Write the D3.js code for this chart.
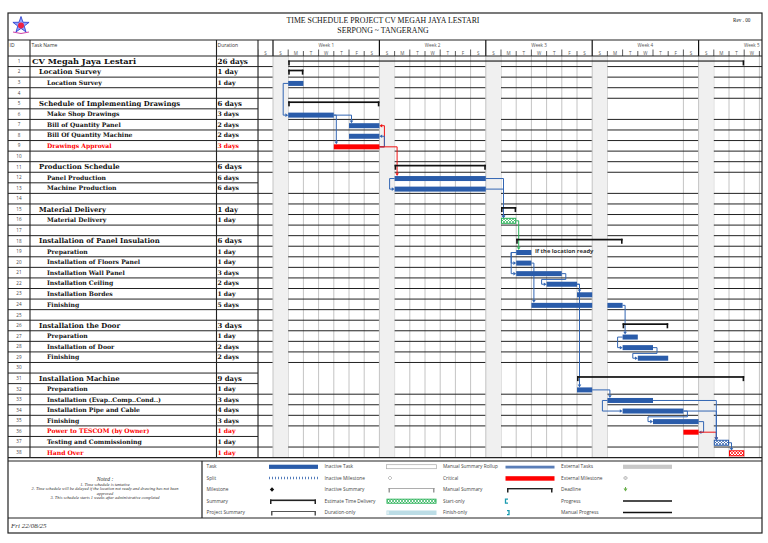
<!DOCTYPE html>
<html><head><meta charset="utf-8">
<script src="https://cdn.jsdelivr.net/npm/d3@7/dist/d3.min.js"></script>
<style>body{margin:0;background:#fff}svg{display:block}</style>
</head><body><svg id="c" width="768" height="543"></svg>
<script>
// ---------------- DATA ----------------
const taskIds = d3.range(1, 39);
const taskNames = [
  "CV Megah Jaya Lestari","Location Survey","Location Survey","",
  "Schedule of Implementing Drawings","Make Shop Drawings","Bill of Quantity Panel","Bill Of Quantity Machine","Drawings Approval","",
  "Production Schedule","Panel Production","Machine Production","",
  "Material Delivery","Material Delivery","",
  "Installation of Panel Insulation","Preparation","Installation of Floors Panel","Installation Wall Panel","Installation Ceiling","Installation Bordes","Finishing","",
  "Installation the Door","Preparation","Installation of Door","Finishing","",
  "Installation Machine","Preparation","Installation (Evap..Comp..Cond..)","Installation Pipe and Cable","Finishing","Power to TESCOM (by Owner)","Testing and Commissioning","Hand Over"
];
const durations = [
  "26 days","1 day","1 day","",
  "6 days","3 days","2 days","2 days","3 days","",
  "6 days","6 days","6 days","",
  "1 day","1 day","",
  "6 days","1 day","1 day","3 days","2 days","1 day","5 days","",
  "3 days","1 day","2 days","2 days","",
  "9 days","1 day","3 days","4 days","3 days","1 day","1 day","1 day"
];
const outlineLevel = [0,1,2,-1, 1,2,2,2,2,-1, 1,2,2,-1, 1,2,-1, 1,2,2,2,2,2,2,-1, 1,2,2,2,-1, 1,2,2,2,2,2,2,2];
const isCritical = taskIds.map(id => [9,36,38].includes(id));
const barKind = [
  "project","summary","task",null,
  "summary","task","task","task","critical",null,
  "summary","task","task",null,
  "summary","estimate",null,
  "summary","task","task","task","task","task","task",null,
  "summary","task","task","task",null,
  "summary","task","task","task","task","critical","hatch","hatchCritical"
];
// calendar day index (0 = Sunday of Week 1), [start, end)
const barSegments = [
  [[1,31]],[[1,2]],[[1,2]],[],
  [[1,7]],[[1,4]],[[5,7]],[[5,7]],[[4,7]],[],
  [[8,14]],[[8,14]],[[8,14]],[],
  [[15,16]],[[15,16]],[],
  [[16,23]],[[16,17]],[[16,17]],[[16,19]],[[18,20]],[[20,21]],[[17,21],[22,23]],[],
  [[23,26]],[[23,24]],[[23,25]],[[24,26]],[],
  [[20,31]],[[20,21]],[[22,25]],[[23,27]],[[25,28]],[[27,28]],[[29,30]],[[30,31]]
];
const linkFrom = [3,6,6,9,9,9,12,12,13,16,19,19,21,20,22,22,24,27,28,32,33,34,35,36,33,34,37];
const linkTo   = [6,7,9,7,8,12,13,16,16,19,20,21,22,24,23,32,27,28,29,33,34,35,36,37,37,37,38];
const linkType = ["SS","FS","FS","FF","FF","FS","SS","FS","FS","FS","SS","SS","FS","FS","FS","FS","FS","SS","FS","FS","SS","FS","FF","FS","FS","FS","FS"];
const linkTone = ["b","b","b","r","b","r","b","b","b","g","b","b","b","b","b","b","b","b","b","b","b","b","b","r","b","b","b"];
const weekLabels = ["Week 1","Week 2","Week 3","Week 4","Week 5"];
const dayLetters = ["S","M","T","W","T","F","S"];
const hiddenGridDays = [23,24,25,26];
const hiddenRowLines = [5,12,30,31,36];
const barNote = {row:19, text:"If the location ready"};
const noteLines = ["1. Time schedule is tentative","2. Time schedule will be delayed if the location not ready and drawing has not been","approved","3. This schedule starts 1 weeks after administrative completed"];
const legendCols = [
  ["Task","Split","Milestone","Summary","Project Summary"],
  ["Inactive Task","Inactive Milestone","Inactive Summary","Estimate Time Delivery","Duration-only"],
  ["Manual Summary Rollup","Critical","Manual Summary","Start-only","Finish-only"],
  ["External Tasks","External Milestone","Deadline","Progress","Manual Progress"]
];

// ---------------- LAYOUT ----------------
const svg = d3.select("#c");
const L=8, R=762, T=13, B=533;
const titleB=40, headB=56, tableB=457.6, legT=461, legB=518;
const colName=30, colDur=216.5, colG=258;
const x = d3.scaleLinear().domain([0,28]).range([273,698.6]);
const dw = x(1)-x(0);
const y = d3.scaleBand().domain(taskIds).range([headB, tableB]);
const rh = y.bandwidth();
const cy = id => y(id)+rh/2;
const BLUE="#2a5caa", LINKB="#3366b3", RED="#ff0000", GREEN="#2db35a";
const serif="'DejaVu Serif', serif", sans="'Open Sans','Noto Sans',sans-serif";

const defs = svg.append("defs");
defs.append("clipPath").attr("id","gclip").append("rect").attr("x",colG).attr("y",titleB).attr("width",R-colG).attr("height",tableB-titleB);
function hatch(id, col){
  const p = defs.append("pattern").attr("id",id).attr("patternUnits","userSpaceOnUse").attr("width",3).attr("height",3);
  p.append("rect").attr("width",3).attr("height",3).attr("fill","#fff");
  p.append("path").attr("d","M0,0L3,3M3,0L0,3").attr("stroke",col).attr("stroke-width",0.7);
}
hatch("hg",GREEN); hatch("hb",BLUE); hatch("hr",RED);

// ---------------- GANTT GRID ----------------
const g = svg.append("g").attr("clip-path","url(#gclip)");
const dayIdx = d3.range(-1, 34);
g.selectAll(".vl").data(dayIdx.filter(d => !hiddenGridDays.includes(d) && d%7!==0)).join("line")
  .attr("x1",d=>x(d)).attr("x2",d=>x(d)).attr("y1",headB).attr("y2",tableB)
  .attr("stroke","#c4c4c4").attr("stroke-width",1);
const rowBounds = d3.range(1,38).filter(k=>!hiddenRowLines.includes(k));
g.selectAll(".hl").data(rowBounds).join("line")
  .attr("x1",colG).attr("x2",R).attr("y1",k=>y(k)+rh).attr("y2",k=>y(k)+rh)
  .attr("stroke","#222").attr("stroke-width",1);
g.selectAll(".sun").data(d3.range(0,5)).join("rect")
  .attr("x",w=>x(7*w)).attr("width",dw).attr("y",headB).attr("height",tableB-headB)
  .attr("fill","#f0f0f0");
g.selectAll(".wl").data(d3.range(0,5)).join("line")
  .attr("x1",w=>x(7*w)).attr("x2",w=>x(7*w)).attr("y1",headB).attr("y2",tableB)
  .attr("stroke","#c4c4c4").attr("stroke-width",1);

// header timescale
const gh = svg.append("g").attr("clip-path","url(#gclip)");
gh.selectAll(".wk").data(weekLabels).join("text")
  .attr("x",(t,i)=>Math.min(x(7*i+3.5), R-9)).attr("y",47).attr("text-anchor","middle")
  .attr("font-family",sans).attr("font-size",4.6).attr("fill","#555").text(t=>t);
const letterDays = dayIdx.filter(d => x(d+0.5)+2 < R);
gh.selectAll(".dl").data(letterDays).join("text")
  .attr("x",d=>x(d+0.5)).attr("y",55).attr("text-anchor","middle")
  .attr("font-family",sans).attr("font-size",4.6).attr("fill","#555")
  .text(d=>dayLetters[((d%7)+7)%7]);
gh.selectAll(".dt").data(dayIdx.filter(d=>d%7!==0)).join("line")
  .attr("x1",d=>x(d)).attr("x2",d=>x(d)).attr("y1",d=>(d%2? 49.5:51)).attr("y2",headB)
  .attr("stroke","#333").attr("stroke-width",0.8);
gh.selectAll(".ws").data(d3.range(0,5)).join("line")
  .attr("x1",w=>x(7*w)).attr("x2",w=>x(7*w)).attr("y1",titleB).attr("y2",headB)
  .attr("stroke","#111").attr("stroke-width",1.2);

// ---------------- TABLE ----------------
const tb = svg.append("g");
tb.selectAll(".rl").data(d3.range(1,38)).join("line")
  .attr("x1",L).attr("x2",colG).attr("y1",k=>y(k)+rh).attr("y2",k=>y(k)+rh)
  .attr("stroke","#222").attr("stroke-width",1);
[colName,colDur,colG].forEach(cx=>{
  tb.append("line").attr("x1",cx).attr("x2",cx).attr("y1",titleB).attr("y2",tableB).attr("stroke","#222").attr("stroke-width",1.1);
});
tb.append("line").attr("x1",L).attr("x2",R).attr("y1",headB).attr("y2",headB).attr("stroke","#222").attr("stroke-width",1.2);
[["ID",L+1.5],["Task Name",colName+1.5],["Duration",colDur+1]].forEach(([t,px])=>{
  tb.append("text").attr("x",px).attr("y",47).attr("font-family",sans).attr("font-size",5).attr("fill","#333").text(t);
});
tb.selectAll(".id").data(taskIds).join("text")
  .attr("x",19).attr("y",id=>cy(id)+1.6).attr("text-anchor","middle")
  .attr("font-family",sans).attr("font-size",4.6).attr("fill","#444").text(id=>id);
const fsz = lv => lv===0 ? 8.2 : lv===1 ? 6.9 : 6.1;
const indent = lv => lv===0 ? 32 : lv===1 ? 39 : 47;
tb.selectAll(".nm").data(taskIds.filter((id,i)=>taskNames[i])).join("text")
  .attr("x",id=>indent(outlineLevel[id-1])).attr("y",id=>cy(id)+fsz(outlineLevel[id-1])*0.36)
  .attr("font-family",serif).attr("font-weight","bold")
  .attr("font-size",id=>fsz(outlineLevel[id-1]))
  .attr("fill",id=>isCritical[id-1]?"#ff0000":"#111").text(id=>taskNames[id-1]);
tb.selectAll(".du").data(taskIds.filter((id,i)=>durations[i])).join("text")
  .attr("x",colDur+1).attr("y",id=>cy(id)+fsz(outlineLevel[id-1])*0.36)
  .attr("font-family",serif).attr("font-weight","bold")
  .attr("font-size",id=>Math.min(fsz(outlineLevel[id-1]),7.2))
  .attr("fill",id=>isCritical[id-1]?"#ff0000":"#111").text(id=>durations[id-1]);

// ---------------- LINKS ----------------
const gl = svg.append("g").attr("fill","none").attr("stroke-width",1);
const toneCol = {b:LINKB, r:"#ee1111", g:GREEN};
const bStart = id => barSegments[id-1][0][0];
const bEnd = id => barSegments[id-1][barSegments[id-1].length-1][1];
const bm = id => cy(id)+1;
linkFrom.forEach((p,i)=>{
  const s = linkTo[i], col = toneCol[linkTone[i]];
  let path, arrow;
  if (linkType[i]==="FS") {
    const pe = x(bEnd(p)), ss = x(bStart(s));
    if (ss+3 >= pe-0.5) {
      const xv = ss+2.5, top = cy(s)-1.5;
      path = `M${pe},${bm(p)}H${xv}V${top-2.5}`;
      arrow = `M${xv-1.8},${top-2.8}L${xv+1.8},${top-2.8}L${xv},${top}Z`;
    } else {
      const xr = pe+4, ym = bm(p)+rh*0.5+0.5, xl = ss-5;
      path = `M${pe},${bm(p)}H${xr}V${ym}H${xl}V${bm(s)}H${ss-2.5}`;
      arrow = `M${ss-2.8},${bm(s)-1.8}L${ss-2.8},${bm(s)+1.8}L${ss},${bm(s)}Z`;
    }
  } else if (linkType[i]==="SS") {
    const ps = x(bStart(p)), ss = x(bStart(s)), xl = Math.min(ps,ss)-5;
    path = `M${ps},${bm(p)}H${xl}V${bm(s)}H${ss-2.5}`;
    arrow = `M${ss-2.8},${bm(s)-1.8}L${ss-2.8},${bm(s)+1.8}L${ss},${bm(s)}Z`;
  } else {
    const pe = x(bEnd(p)), se = x(bEnd(s)), xr = Math.max(pe,se)+5;
    path = `M${pe},${bm(p)}H${xr}V${bm(s)}H${se+2.5}`;
    arrow = `M${se+2.8},${bm(s)-1.8}L${se+2.8},${bm(s)+1.8}L${se},${bm(s)}Z`;
  }
  gl.append("path").attr("d",path).attr("stroke",col);
  gl.append("path").attr("d",arrow).attr("fill",col).attr("stroke","none");
});

// ---------------- BARS ----------------
const gb = svg.append("g");
taskIds.forEach((id,i)=>{
  const k = barKind[i]; if(!k) return;
  const c = cy(id);
  barSegments[i].forEach(([s,e])=>{
    const x0=x(s), x1=x(e);
    if (k==="summary" || k==="project") {
      const th = k==="summary"?1.7:1.1, ty = k==="summary"? c-2.2 : c-0.8;
      gb.append("rect").attr("x",x0).attr("y",ty).attr("width",x1-x0).attr("height",th).attr("fill","#111");
      gb.append("rect").attr("x",x0).attr("y",ty).attr("width",1.6).attr("height",5).attr("fill","#111");
      gb.append("rect").attr("x",x1-1.6).attr("y",ty).attr("width",1.6).attr("height",5).attr("fill","#111");
    } else {
      const fills = {task:BLUE, critical:RED, estimate:"url(#hg)", hatch:"url(#hb)", hatchCritical:"url(#hr)"};
      const strokes = {estimate:GREEN, hatch:BLUE, hatchCritical:RED};
      gb.append("rect").attr("x",x0+(strokes[k]?0.5:0)).attr("y",c-1.5).attr("width",x1-x0-(strokes[k]?1:0)).attr("height",5)
        .attr("fill",fills[k]).attr("stroke",strokes[k]||"none").attr("stroke-width",1);
    }
  });
});
gb.append("text").attr("x",x(bEnd(barNote.row))+3.5).attr("y",cy(barNote.row)+1.8)
  .attr("font-family",sans).attr("font-weight","bold").attr("font-size",5.8).attr("fill","#333").text(barNote.text);

// ---------------- TITLE ----------------
svg.append("text").attr("x",383).attr("y",22.5).attr("text-anchor","middle")
  .attr("font-family","'Liberation Serif',serif").attr("font-size",7.8).attr("fill","#111").text("TIME SCHEDULE PROJECT CV MEGAH JAYA LESTARI");
svg.append("text").attr("x",383).attr("y",32.5).attr("text-anchor","middle")
  .attr("font-family","'Liberation Serif',serif").attr("font-size",7.8).attr("fill","#111").text("SERPONG ~ TANGERANG");
svg.append("text").attr("x",733).attr("y",22).attr("font-family","'Liberation Serif',serif").attr("font-size",5.2).attr("fill","#222").text("Rev . 00");
// logo
const star = d3.range(10).map(k=>{const a=-Math.PI/2+k*Math.PI/5, r=k%2?3.4:8.5; return [21+r*Math.cos(a),25+r*Math.sin(a)];});
svg.append("path").attr("d","M"+star.join("L")+"Z").attr("fill","#8fa6ff").attr("stroke","#2233cc").attr("stroke-width",0.8);
svg.append("circle").attr("cx",21).attr("cy",25.5).attr("r",3).attr("fill","#ee2244");
svg.append("path").attr("d","M13,32 Q21,35 29,32").attr("stroke","#cc44aa").attr("stroke-width",1).attr("fill","none");

// ---------------- FRAMES ----------------
const fr = svg.append("g").attr("fill","none").attr("stroke","#222");
fr.append("rect").attr("x",L).attr("y",T).attr("width",R-L).attr("height",B-T).attr("stroke-width",1.2);
fr.append("line").attr("x1",L).attr("x2",R).attr("y1",titleB).attr("y2",titleB).attr("stroke-width",1.2);
fr.append("line").attr("x1",L).attr("x2",R).attr("y1",tableB).attr("y2",tableB).attr("stroke-width",1.2);
fr.append("line").attr("x1",L).attr("x2",R).attr("y1",legT).attr("y2",legT).attr("stroke-width",1.2);
fr.append("line").attr("x1",L).attr("x2",R).attr("y1",legB).attr("y2",legB).attr("stroke-width",1.2);
fr.append("line").attr("x1",202).attr("x2",202).attr("y1",legT).attr("y2",legB).attr("stroke-width",1.2);

// notes
const nt = svg.append("g").attr("font-family","'Liberation Serif',serif").attr("font-style","italic").attr("fill","#333").attr("text-anchor","middle");
nt.append("text").attr("x",105).attr("y",480.5).attr("font-size",5.6).text("Noted :");
noteLines.forEach((t,i)=>nt.append("text").attr("x",105).attr("y",486+i*4.4).attr("font-size",4.4).text(t));
svg.append("text").attr("x",11).attr("y",528).attr("font-family","'Liberation Serif',serif").attr("font-style","italic").attr("font-size",7).attr("fill","#333").text("Fri 22/08/25");

// legend
const lg = svg.append("g");
const lx = [206.5,324.5,443,561], sx = [269,386.5,505.5,623], ly = [466.5,478,489.5,501,512.5];
legendCols.forEach((col,ci)=>col.forEach((t,ri)=>{
  lg.append("text").attr("x",lx[ci]).attr("y",ly[ri]+1.7).attr("font-family",sans).attr("font-size",4.8).attr("fill","#444").text(t);
}));
const sw = 49;
function bracket(x0,x1,yy,col,th){
  lg.append("rect").attr("x",x0).attr("y",yy-1.5).attr("width",x1-x0).attr("height",th).attr("fill",col);
  lg.append("rect").attr("x",x0).attr("y",yy-1.5).attr("width",1.5).attr("height",4.5).attr("fill",col);
  lg.append("rect").attr("x",x1-1.5).attr("y",yy-1.5).attr("width",1.5).attr("height",4.5).attr("fill",col);
}
const diamond = (cx,cyy,r)=>`M${cx},${cyy-r}L${cx+r},${cyy}L${cx},${cyy+r}L${cx-r},${cyy}Z`;
// col 1
lg.append("rect").attr("x",sx[0]).attr("y",ly[0]-1.8).attr("width",sw).attr("height",4.2).attr("fill",BLUE);
lg.append("line").attr("x1",sx[0]).attr("x2",sx[0]+sw).attr("y1",ly[1]).attr("y2",ly[1]).attr("stroke",BLUE).attr("stroke-width",2.6).attr("stroke-dasharray","0.8,2.2");
lg.append("path").attr("d",diamond(sx[0]+3,ly[2],2.2)).attr("fill","#111");
bracket(sx[0]+1,sx[0]+sw-2,ly[3],"#222",1.6);
bracket(sx[0]+2,sx[0]+sw-2,ly[4],"#555",1);
// col 2
lg.append("rect").attr("x",sx[1]).attr("y",ly[0]-1.8).attr("width",sw+1).attr("height",4).attr("fill","#fff").attr("stroke","#aaa").attr("stroke-width",0.7);
lg.append("path").attr("d",diamond(sx[1]+3.5,ly[1],2)).attr("fill","#fff").attr("stroke","#aaa").attr("stroke-width",0.7);
bracket(sx[1]+2,sx[1]+sw-1,ly[2],"#999",0.8);
lg.append("rect").attr("x",sx[1]+0.5).attr("y",ly[3]-1.8).attr("width",sw).attr("height",4).attr("fill","url(#hg)").attr("stroke",GREEN).attr("stroke-width",1);
lg.append("rect").attr("x",sx[1]).attr("y",ly[4]-2).attr("width",sw+1).attr("height",4.5).attr("fill","#bcdde6");
lg.append("rect").attr("x",sx[1]+1).attr("y",ly[4]-1.2).attr("width",1).attr("height",3).attr("fill","#fff");
// col 3
lg.append("rect").attr("x",sx[2]).attr("y",ly[0]-0.8).attr("width",sw).attr("height",2.8).attr("fill","#5a7eb8");
lg.append("rect").attr("x",sx[2]).attr("y",ly[1]-1.8).attr("width",sw).attr("height",4.5).attr("fill",RED);
bracket(sx[2]+1.5,sx[2]+sw-2,ly[2],"#222",1.4);
lg.append("path").attr("d",`M${sx[2]+2.5},${ly[3]-1.8}H${sx[2]}V${ly[3]+2.2}H${sx[2]+2.5}`).attr("fill","none").attr("stroke","#1a9bb0").attr("stroke-width",1.3);
lg.append("path").attr("d",`M${sx[2]+1.5},${ly[4]-1.8}H${sx[2]+3.5}V${ly[4]+2.2}H${sx[2]+1.5}`).attr("fill","none").attr("stroke","#1a9bb0").attr("stroke-width",1.3);
// col 4
lg.append("rect").attr("x",sx[3]).attr("y",ly[0]-1.8).attr("width",sw).attr("height",4.2).attr("fill","#c8c8c8");
lg.append("path").attr("d",diamond(sx[3]+2.5,ly[1],2)).attr("fill","#ddd").attr("stroke","#999").attr("stroke-width",0.6);
lg.append("path").attr("d",`M${sx[3]+0.5},${ly[2]-1}L${sx[3]+4.5},${ly[2]-1}L${sx[3]+2.5},${ly[2]+2}Z M${sx[3]+2},${ly[2]-2.5}h1v2h-1z`).attr("fill","#6ab04c");
lg.append("line").attr("x1",sx[3]).attr("x2",sx[3]+sw).attr("y1",ly[3]).attr("y2",ly[3]).attr("stroke","#111").attr("stroke-width",1.6);
lg.append("line").attr("x1",sx[3]).attr("x2",sx[3]+sw).attr("y1",ly[4]).attr("y2",ly[4]).attr("stroke","#111").attr("stroke-width",1.6);
</script></body></html>
